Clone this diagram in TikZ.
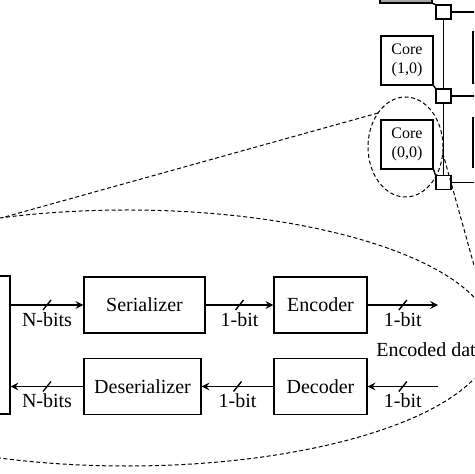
\documentclass[tikz,border=0pt]{standalone}
\usepackage{fontspec}
\setmainfont{Liberation Serif}
\usetikzlibrary{shapes.geometric}

\begin{document}
\begin{tikzpicture}
        % 样式: 核心方框, 路由方块, 功能模块, 虚线放大圈
        [x=0.5pt,y=-0.5pt,line width=0.7pt,
        CoreNode/.style={rectangle,draw=black,minimum width=26pt,minimum height=24.5pt,inner sep=0pt,align=center,font=\fontsize{8}{9.5}\selectfont},
        RNode/.style={rectangle,draw=black,fill=white,minimum width=7.5pt,minimum height=7pt,inner sep=0pt},
        BlkNode/.style={rectangle,draw=black,minimum height=28pt,inner sep=0pt,font=\fontsize{10}{12}\selectfont},
        ZoomNode/.style={ellipse,draw=black,DashLine,inner sep=0pt,outer sep=0pt},
        DashLine/.style={dash pattern=on 2pt off 1.3pt,line width=0.5pt},
        BitLabel/.style={below,font=\fontsize{10}{12}\selectfont}]

        % 画布范围
        \useasboundingbox (0,0) rectangle (474,474);
        \clip (0,0) rectangle (474,474);

        % 右上角: 核心和路由
        \node[CoreNode,fill=gray!70] (c_0) at (406,-21.5) {};
        \node[CoreNode] (c_1) at (407,60.5) {Core\\(1,0)};
        \node[CoreNode] (c_2) at (407,144.5) {Core\\(0,0)};
        \node[CoreNode,minimum height=25.5pt] (d_1) at (499,57.5) {};
        \node[CoreNode,minimum height=25pt] (d_2) at (499,142.5) {};

        \node[RNode] (r_0) at (443.5,12) {};
        \node[RNode] (r_1) at (443.5,96) {};
        \node[RNode] (r_2) at (443.5,182.5) {};

        \draw (r_0)--(r_1);
        \draw (r_1)--(r_2);
        \foreach \x in {0,1,2}{
            \coordinate (e_\x) at (480,0|-r_\x);
            \draw (r_\x.east)--(e_\x);
            \draw (c_\x.south east)--(r_\x.north west);
        }

        % 放大虚线圈
        \node[ZoomNode,minimum width=37.5pt,minimum height=50pt] (zoom) at (405.5,147) {};
        \node[ZoomNode,minimum width=366pt,minimum height=128pt] (big) at (127,338) {};
        \draw[DashLine] (zoom.129)--(big.136);
        \draw[DashLine] (zoom.-9)--(big.3);

        % 下方模块
        \node[BlkNode,minimum width=30pt,minimum height=69pt] (host) at (-20,345) {};
        \node[BlkNode,minimum width=60.5pt] (ser) at (144.5,305) {Serializer};
        \node[BlkNode,minimum width=46.5pt] (enc) at (320.5,305) {Encoder};
        \node[BlkNode,minimum width=58.5pt] (des) at (142.5,386.5) {Deserializer};
        \node[BlkNode,minimum width=46.5pt] (dec) at (320.5,386.5) {Decoder};

        \coordinate (h_1) at (host.east|-ser.west);
        \coordinate (h_2) at (host.east|-des.east);
        \coordinate (out) at (438,305);
        \coordinate (in) at (438,386.5);

        % 连线, 斜杠和位宽
        \foreach \a/\b/\t in {h_1/ser/N-bits,ser/enc/1-bit,enc/out/1-bit,in/dec/1-bit,dec/des/1-bit,des/h_2/N-bits}{
            \draw[-stealth] (\a)-- coordinate[midway] (m) node[BitLabel,midway]{\t} (\b);
            \draw (m) ++(-4,5)--++(8,-10);
        }

        \node[anchor=west,font=\fontsize{10}{12}\selectfont] (txt) at (369,350) {Encoded data};
\end{tikzpicture}
\end{document}
